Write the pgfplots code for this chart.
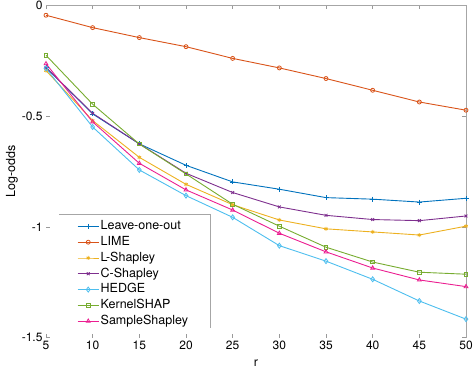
\documentclass[border=0pt]{standalone}
\usepackage{pgfplots}
\pgfplotsset{compat=1.18}
\usepackage{fontspec}
\setmainfont{TeX Gyre Heros}
\usetikzlibrary{calc}
\definecolor{c1}{rgb}{0,0.447,0.741}
\definecolor{c2}{rgb}{0.85,0.325,0.098}
\definecolor{c3}{rgb}{0.929,0.694,0.125}
\definecolor{c4}{rgb}{0.494,0.184,0.556}
\definecolor{c5}{rgb}{0.301,0.745,0.933}
\definecolor{c6}{rgb}{0.466,0.674,0.188}
\definecolor{c7}{RGB}{235,30,145}
\begin{document}
\begin{tikzpicture}
\begin{axis}[
  scale only axis, width=420pt, height=332pt,
  xmin=5, xmax=50, ymin=-1.5, ymax=0,
  xtick={5,10,...,50}, ytick={-1.5,-1,-0.5,0},
  axis line style={draw=none},
  tick align=inside, major tick length=4pt,
  tick style={gray!80, line width=0.5pt},
  /pgf/number format/assume math mode=true,
  tick label style={font=\fontsize{12}{14}\selectfont},
  xlabel={r}, ylabel={Log-odds},
  label style={font=\fontsize{12.5}{14}\selectfont},
  xlabel style={at={(axis description cs:0.5,-0.0765)}, anchor=center},
  ylabel style={at={(axis description cs:-0.081,0.5)}, anchor=center},
  clip=false,
  every axis plot/.append style={line width=0.9pt, mark options={solid, line width=0.8pt}},
  legend cell align=left,
  legend image code/.code={\draw[mark repeat=2,mark phase=2,#1] plot coordinates {(0pt,0pt) (10.5pt,0pt) (21pt,0pt)};},
  legend style={at={(rel axis cs:0.074,0.3526)}, anchor=north west, draw=none, fill=none,
    inner sep=0pt, row sep=4.3pt,
    nodes={inner xsep=1.5pt, inner ysep=0pt, text height=9pt, text depth=2.5pt, font=\fontsize{12.5}{14}\selectfont}},
]
\draw[gray!70, line width=0.5pt] (rel axis cs:0,1) -- (rel axis cs:1,1) -- (rel axis cs:1,0);
\draw[gray!70, line width=0.5pt] (rel axis cs:0.031,0.37) -- (rel axis cs:0.39,0.37) -- (rel axis cs:0.39,0.029);
\addplot[c1, mark=+, mark size=2.5pt] coordinates {(5,-0.28)(10,-0.49)(15,-0.625)(20,-0.722)(25,-0.797)(30,-0.83)(35,-0.868)(40,-0.875)(45,-0.888)(50,-0.871)};
\addlegendentry{Leave-one-out}
\addplot[c2, mark=o, mark size=2pt] coordinates {(5,-0.044)(10,-0.100)(15,-0.145)(20,-0.186)(25,-0.239)(30,-0.282)(35,-0.330)(40,-0.383)(45,-0.436)(50,-0.473)};
\addlegendentry{LIME}
\addplot[c3, mark=asterisk, mark size=2pt] coordinates {(5,-0.294)(10,-0.52)(15,-0.686)(20,-0.808)(25,-0.900)(30,-0.969)(35,-1.009)(40,-1.023)(45,-1.037)(50,-0.997)};
\addlegendentry{L-Shapley}
\addplot[c4, mark=x, mark size=2pt] coordinates {(5,-0.28)(10,-0.487)(15,-0.625)(20,-0.758)(25,-0.845)(30,-0.910)(35,-0.948)(40,-0.967)(45,-0.972)(50,-0.951)};
\addlegendentry{C-Shapley}
\addplot[c5, mark=diamond, mark size=2.5pt] coordinates {(5,-0.284)(10,-0.549)(15,-0.743)(20,-0.859)(25,-0.957)(30,-1.085)(35,-1.155)(40,-1.237)(45,-1.335)(50,-1.417)};
\addlegendentry{HEDGE}
\addplot[c6, mark=square, mark size=1.8pt] coordinates {(5,-0.225)(10,-0.446)(15,-0.626)(20,-0.761)(25,-0.898)(30,-0.997)(35,-1.092)(40,-1.159)(45,-1.205)(50,-1.214)};
\addlegendentry{KernelSHAP}
\addplot[c7, mark=triangle, mark size=2.2pt] coordinates {(5,-0.263)(10,-0.526)(15,-0.713)(20,-0.833)(25,-0.924)(30,-1.029)(35,-1.113)(40,-1.186)(45,-1.240)(50,-1.270)};
\addlegendentry{SampleShapley}
\end{axis}
\pgfresetboundingbox
\path[use as bounding box] ($(current axis.south west)+(-46pt,-32.4pt)$) rectangle ($(current axis.north east)+(8pt,5.5pt)$);
\end{tikzpicture}
\end{document}
